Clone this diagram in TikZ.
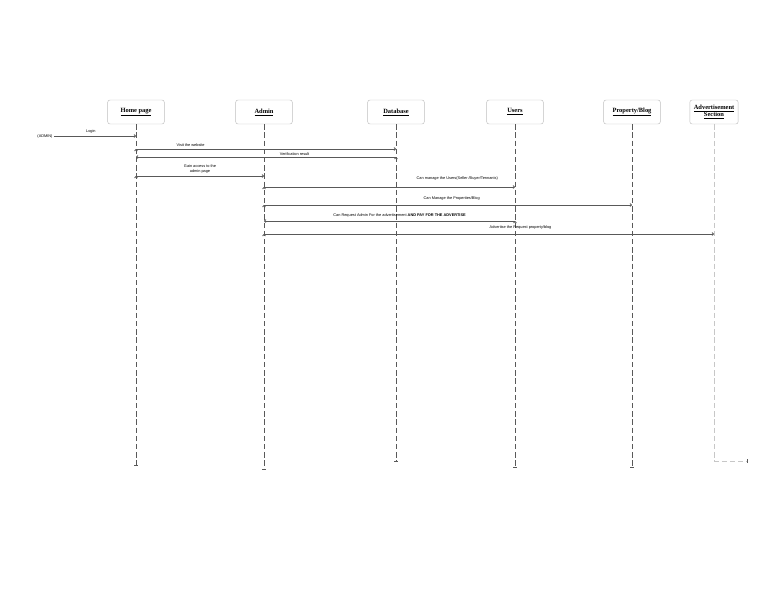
\documentclass[tikz,border=0pt]{standalone}
\usepackage{fontspec}
\setmainfont{Liberation Serif}
\setsansfont{Liberation Sans}
\usetikzlibrary{arrows.meta}

\tikzset{
  head/.style={shape=rectangle,rounded corners=2pt,draw=black!25,fill=white,
    minimum width=1.7cm,minimum height=0.72cm,align=center,
    font=\fontsize{5.5}{6.2}\selectfont\bfseries},
  life/.style={draw=black!65,line width=0.75pt,dash pattern=on 4.5pt off 2.5pt,-{Bar[width=3pt,line width=0.6pt]}},
  msg/.style={draw=black!65,line width=0.8pt,-{To[length=2pt,width=3pt]}},
  lbl/.style={font=\fontsize{3.3}{3.8}\selectfont\sffamily,align=center,inner sep=1pt}
}

\begin{document}
\begin{tikzpicture}[x=0.03cm,y=-0.03cm]
\useasboundingbox (0,0) rectangle (768,593);

% lifeline heads
\node[head](home) at (136,112) {\underline{Home page}};
\node[head](admin) at (264,112) {\underline{Admin}};
\node[head](db) at (396,112) {\underline{Database}};
\node[head](users) at (515,112) {\underline{Users}};
\node[head](prop) at (632,112) {\underline{Property/Blog}};
\node[head,minimum width=1.45cm](adv) at (714,112) {\underline{Advertisement}\\\underline{Section}};

\node[lbl](actor) at (45,136) {(ADMIN)};

% lifeline ends
\coordinate (homeend) at (136,466);
\coordinate (adminend) at (264,470);
\coordinate (dbend) at (396,462);
\coordinate (usersend) at (515,468);
\coordinate (propend) at (632,468);
\coordinate (advend) at (748,461);

\draw[life] (home.south) -- (homeend);
\draw[life] (admin.south) -- (adminend);
\draw[life] (db.south) -- (dbend);
\draw[life] (users.south) -- (usersend);
\draw[life] (prop.south) -- (propend);
\draw[life,draw=black!22,-{Bar[width=3pt,line width=0.6pt,color=black!65]}] (adv.south) |- (advend);

% message heights
\coordinate (m1) at (0,136);
\coordinate (m2) at (0,149);
\coordinate (m3) at (0,157);
\coordinate (m4) at (0,176);
\coordinate (m5) at (0,187);
\coordinate (m6) at (0,205);
\coordinate (m7) at (0,221);
\coordinate (m8) at (0,234);

\path [msg] (actor) edge node[lbl,above=1pt,pos=0.45] {Login} (home |- m1);
\path [msg] (home |- m2) edge node[lbl,above=1pt,pos=0.21] {Visit the website} (db |- m2);
\path [msg] (db |- m3) edge node[lbl,above=0pt,pos=0.39] {Verification result} (home |- m3);
\path [msg] (home |- m4) edge node[lbl,above=1pt,pos=0.5] {Gain access to the\\admin page} (admin |- m4);
\path [msg] (admin |- m5) edge node[lbl,above=4pt,pos=0.77] {Can manage the Users(Seller /Buyer/Tennants)} (users |- m5);
\path [msg] (admin |- m6) edge node[lbl,above=3pt,pos=0.51] {Can Manage the Properties/Blog} (prop |- m6);
\path [msg] (users |- m7) edge node[lbl,above=2pt,pos=0.46] {Can Request Admin For the advertisement \textbf{AND PAY FOR THE ADVERTISE}} (admin |- m7);
\path [msg] (admin |- m8) edge node[lbl,above=3pt,pos=0.57] {Advertise the Request property/blog} (adv |- m8);
\end{tikzpicture}
\end{document}
